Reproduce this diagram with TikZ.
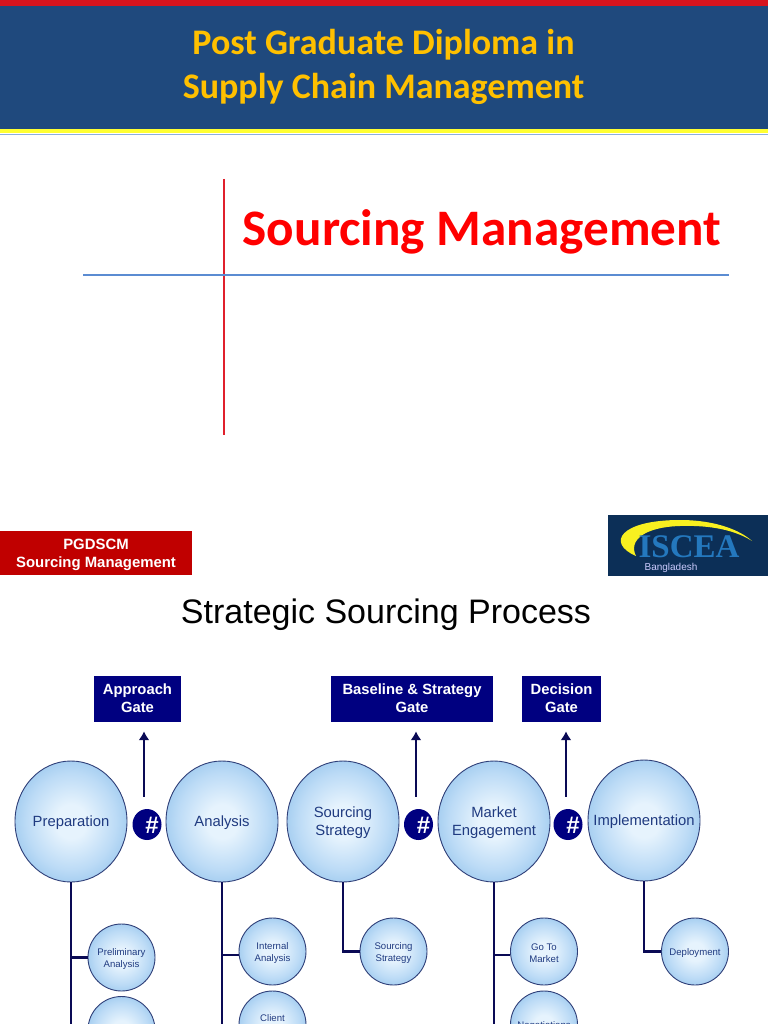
\documentclass[tikz,border=0pt]{standalone}
\usepackage{fontspec}
\setmainfont{Liberation Sans}
\newfontfamily\hdfont{Carlito}
\newfontfamily\logofont{Liberation Serif}
\usetikzlibrary{shapes.geometric,arrows.meta}
\definecolor{hdblue}{HTML}{1F497D}
\definecolor{hdgold}{HTML}{FFC000}
\definecolor{barred}{HTML}{D7141E}
\definecolor{baryel}{HTML}{FFFF33}
\definecolor{navy}{HTML}{000080}
\definecolor{linenavy}{HTML}{0A0A55}
\definecolor{circline}{HTML}{2F3F78}
\definecolor{circtxt}{HTML}{1F3A80}
\definecolor{ballA}{HTML}{E6F3FD}
\definecolor{ballB}{HTML}{BCDBF6}
\definecolor{ballC}{HTML}{94C4EC}
\definecolor{rule}{HTML}{5B8CD2}
\definecolor{vrule}{HTML}{E0202C}
\definecolor{labred}{HTML}{C00000}
\definecolor{logobg}{HTML}{0C2F57}
\definecolor{logoblue}{HTML}{2478BE}
\definecolor{logoyel}{HTML}{F8F020}
\pgfdeclareradialshading{ball}{\pgfpoint{0bp}{0bp}}{color(0bp)=(ballA); color(7bp)=(ballA); color(20bp)=(ballB); color(30bp)=(ballC); color(50bp)=(ballC)}
\newcommand{\zb}[1]{\makebox[0pt]{#1}}
\newcommand{\bigup}{\rule{0pt}{12.6pt}}
\newcommand{\smallup}{\rule{0pt}{10pt}}
\tikzset{
  big/.style={ellipse,shading=ball,draw=circline,line width=0.9pt,minimum width=112pt,minimum height=121pt,inner sep=0pt,align=center,text=circtxt,font=\fontsize{14.8}{18}\selectfont},
  small/.style={ellipse,shading=ball,draw=circline,line width=0.9pt,minimum width=67pt,minimum height=67pt,inner sep=0pt,align=center,text=circtxt,font=\fontsize{9.6}{12}\selectfont},
  hashn/.style={ellipse,fill=navy,minimum width=29pt,minimum height=31pt,inner sep=0pt},
  hashtxt/.style={text=white,inner sep=0pt,font=\bfseries\fontsize{24}{24}\selectfont},
  gate/.style={rectangle,fill=navy,text=white,inner sep=0pt,align=center,text depth=2pt,font=\bfseries\fontsize{14.8}{18}\selectfont},
  branch/.style={draw=linenavy,line width=2.4pt},
  gatearrow/.style={draw=linenavy,line width=2.8pt,-{Latex[length=9pt,width=11pt]},shorten <=12pt,shorten >=9pt},
}
\begin{document}
\begin{tikzpicture}[x=1pt,y=-1pt]
\useasboundingbox (0,0) rectangle (768,1024);
\fill[white] (0,0) rectangle (768,1024);
% header
\fill[hdblue] (0,6) rectangle (768,129);
\fill[barred] (0,0) rectangle (768,6);
\fill[baryel] (0,129) rectangle (768,133);
\draw[rule!70,line width=0.8pt] (0,134) -- (768,134);
\node[text=hdgold,font=\hdfont\bfseries\fontsize{36}{44}\selectfont,align=center,inner sep=0pt] (head) at (383.5,67) {Post Graduate Diploma in\\Supply Chain Management};
% section
\node[text=red,font=\hdfont\bfseries\fontsize{51.2}{51.2}\selectfont,inner sep=0pt] (sm) at (482,232) {Sourcing Management};
\draw[color=vrule,line width=1.4pt] (224,179) -- (224,435);
\draw[color=rule,line width=2pt] (83,275) -- (729,275);
% red label
\node[rectangle,fill=labred,text=white,inner sep=0pt,minimum width=192pt,minimum height=44pt,align=center,font=\bfseries\fontsize{14.9}{18}\selectfont] (lab) at (96,553) {\rule{0pt}{13.5pt}PGDSCM\\Sourcing Management};
% logo
\fill[logobg] (608,515) rectangle (768,576);
\fill[logoyel] (636,556) .. controls (606,543) and (620,520) .. (680,520) .. controls (715,520) and (740,530) .. (752,541) .. controls (735,530) and (710,525) .. (680,526) .. controls (645,527) and (628,540) .. (636,556) -- cycle;
\node[text=logoblue,font=\logofont\bfseries\fontsize{33}{33}\selectfont,inner sep=0pt] (lg1) at (689,547) {ISCEA};
\node[text=white!80!blue,font=\fontsize{10}{10}\selectfont,inner sep=0pt] (lg2) at (671,568) {Bangladesh};
% title
\node[text=black,font=\fontsize{34}{34}\selectfont,inner sep=0pt] (ttl) at (386,615) {Strategic Sourcing Process};
% gates
\node[gate,minimum width=87pt,minimum height=46pt] (g1) at (137.5,699) {Approach\\Gate};
\node[gate,minimum width=162pt,minimum height=46pt] (g2) at (412,699) {Baseline \& Strategy\\Gate};
\node[gate,minimum width=79pt,minimum height=46pt] (g3) at (561.5,699) {Decision\\Gate};
% big circles
\node[big] (p) at (71,821.5) {\zb{\bigup Preparation}};
\node[big] (a) at (222,821.5) {\zb{\bigup Analysis}};
\node[big] (s) at (343,821.5) {\zb{\bigup Sourcing}\\\zb{Strategy}};
\node[big] (m) at (494,821.5) {\zb{\bigup Market}\\\zb{Engagement}};
\node[big] (i) at (644,820.5) {\zb{\bigup Implementation}};
% small circles
\node[small] (p1) at (121.5,957.5) {\zb{\smallup Preliminary}\\\zb{Analysis}};
\node[small] (p2) at (121.5,1030) {};
\node[small] (a1) at (272.5,951.5) {\zb{\smallup Internal}\\\zb{Analysis}};
\node[small] (a2) at (272.5,1024.5) {\zb{Client}\\\phantom{X}};
\node[small] (s1) at (393.5,951.5) {\zb{\smallup Sourcing}\\\zb{Strategy}};
\node[small] (m1) at (544,951.5) {\zb{\smallup Go To}\\\zb{Market}};
\node[small] (m2) at (544,1024.5) {\zb{\smallup Negotiations}};
\node[small] (i1) at (695,951.5) {\zb{\smallup Deployment}};
% connectors
\draw[branch] (p.south) |- (p1.west);
\draw[branch] (p.south) -- (p.south |- p2.west) -- ++(0,60);
\draw[branch] (a.south) |- ([yshift=-3.5pt]a1.west);
\draw[branch] (a.south) |- ([yshift=-0.5pt]a2.west);
\draw[branch] (s.south) |- (s1.west);
\draw[branch] (m.south) |- ([yshift=-3.5pt]m1.west);
\draw[branch] (m.south) -- (m.south |- m2.west) -- ++(0,10);
\draw[branch] (i.south) |- (i1.west);
% hash nodes
\node[hashn] (h1) at (147,824.5) {};
\node[hashn] (h2) at (418.5,824.5) {};
\node[hashn] (h3) at (568,824.5) {};
\node[hashtxt] (t1) at (152,825) {\#};
\node[hashtxt] (t2) at (423.5,825) {\#};
\node[hashtxt] (t3) at (573,825) {\#};
\draw[gatearrow] ([xshift=-3pt]h1.north) -- ([xshift=-3pt]h1.north |- g1.south);
\draw[gatearrow] ([xshift=-2.5pt]h2.north) -- ([xshift=-2.5pt]h2.north |- g2.south);
\draw[gatearrow] ([xshift=-2pt]h3.north) -- ([xshift=-2pt]h3.north |- g3.south);
\end{tikzpicture}
\end{document}
